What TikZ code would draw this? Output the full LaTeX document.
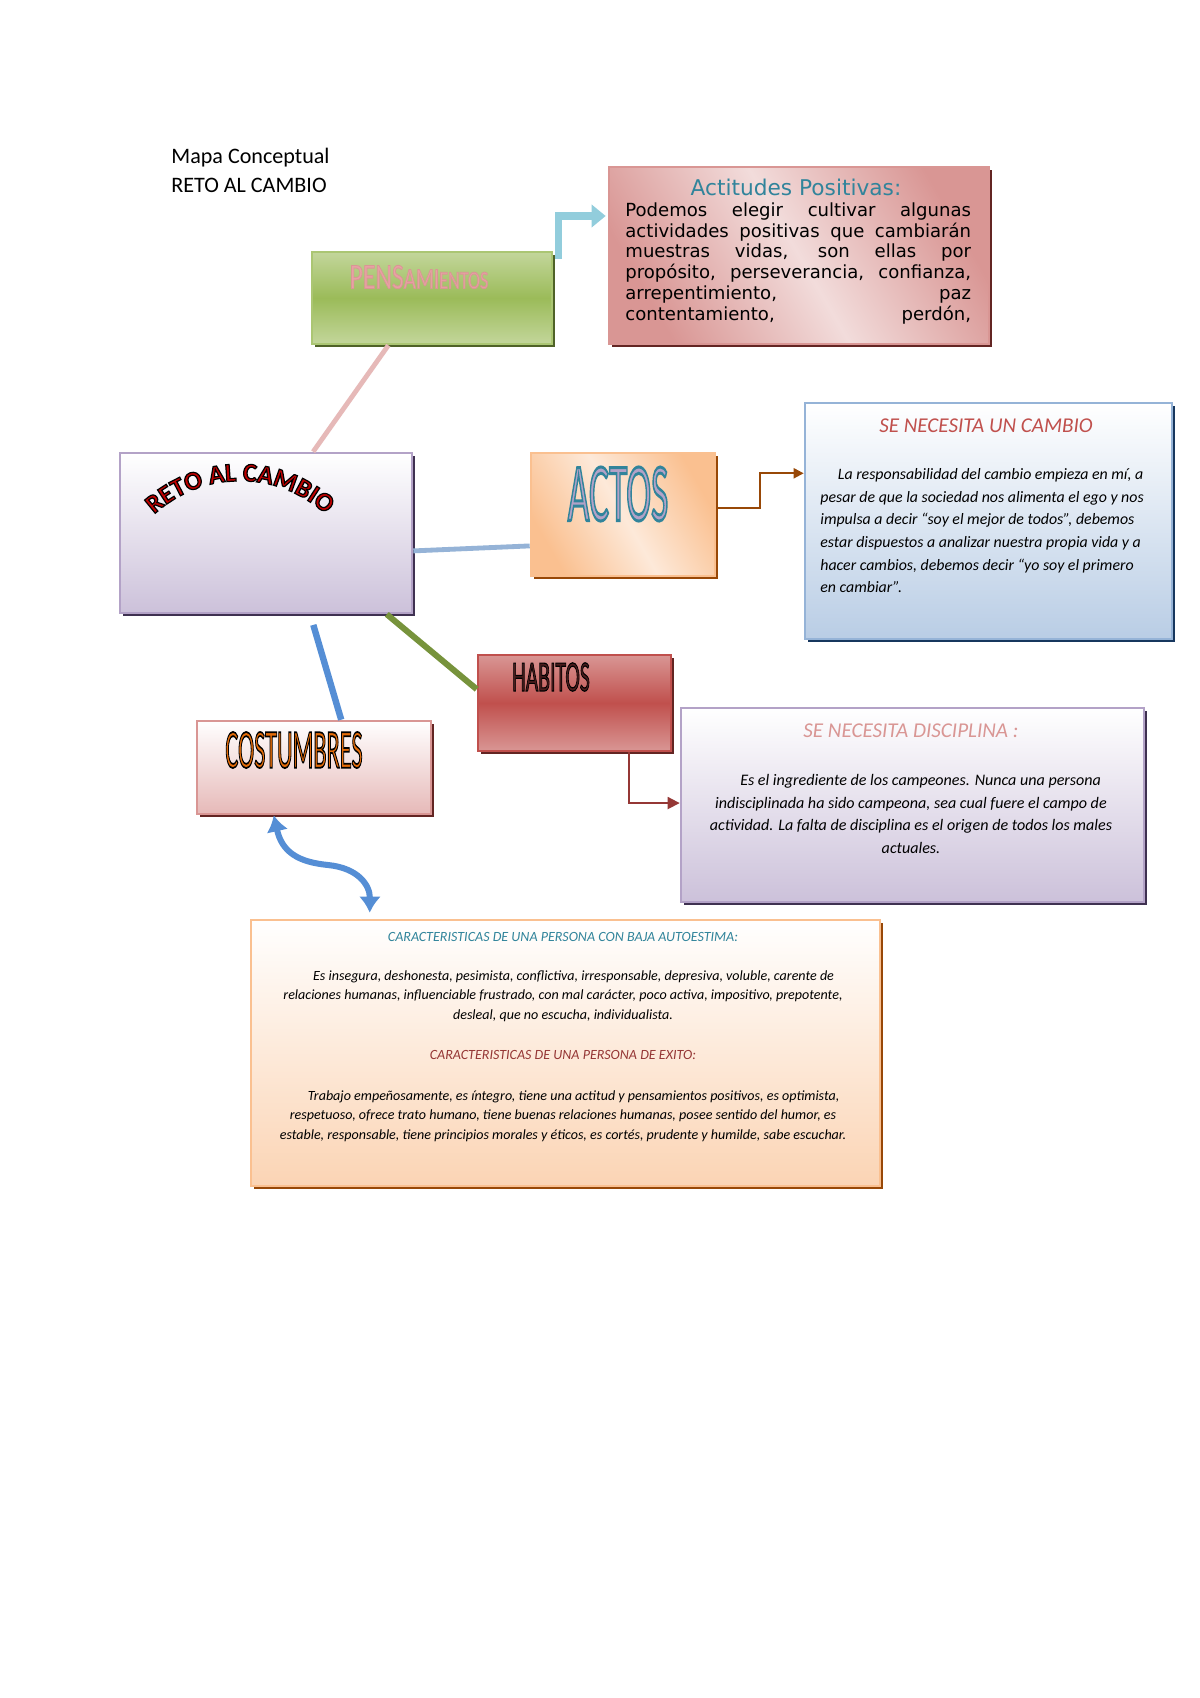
\documentclass[tikz,border=0pt]{standalone}
\usepackage{fontspec}
\setmainfont{Carlito}
\newfontfamily\verdana{DejaVu Sans}
\usetikzlibrary{calc, fit, shadows, arrows.meta, decorations.text}

\definecolor{greenlight}{HTML}{C3D69B}
\definecolor{greenmid}{HTML}{9BBB59}
\definecolor{greendark}{HTML}{4F6228}
\definecolor{rosered}{HTML}{D99694}
\definecolor{roselight}{HTML}{F2DCDB}
\definecolor{rosemid}{HTML}{E6B9B8}
\definecolor{reddark}{HTML}{632523}
\definecolor{redmid}{HTML}{C0504D}
\definecolor{redtext}{HTML}{953735}
\definecolor{redword}{HTML}{C00000}
\definecolor{lilac}{HTML}{CCC1DA}
\definecolor{lilacline}{HTML}{B3A2C7}
\definecolor{lilacdark}{HTML}{3F3151}
\definecolor{peach}{HTML}{FAC090}
\definecolor{peachlight}{HTML}{FDE9D9}
\definecolor{peachsoft}{HTML}{FBD4B4}
\definecolor{browndark}{HTML}{984807}
\definecolor{skyline}{HTML}{95B3D7}
\definecolor{skylight}{HTML}{B9CDE5}
\definecolor{navydark}{HTML}{17375E}
\definecolor{aqua}{HTML}{92CDDC}
\definecolor{tealtext}{HTML}{31849B}
\definecolor{bluemid}{HTML}{558ED5}
\definecolor{olivegreen}{HTML}{77933C}
\definecolor{orangetext}{HTML}{E46C0A}
\definecolor{pinkword}{HTML}{E8A1A4}
\definecolor{habword}{HTML}{4A1C1C}

% outlined letters: stroke colour (r g b) and width
\newcommand{\strokeon}[2]{\special{pdf:literal direct #1 RG #2 w 2 Tr}}
\newcommand{\strokeoff}{\special{pdf:literal direct 0 Tr}}

\tikzset{
    mapbox/.style 2 args={draw=#1, line width=1.3pt, inner sep=0pt,
        general shadow={fill=#2, shadow xshift=1.6pt, shadow yshift=-1.6pt}},
    bodytext/.style={inner sep=0pt, font=\itshape\fontsize{7.9}{11.3}\selectfont},
    smalltext/.style={inner sep=0pt, align=center, font=\itshape\fontsize{7}{9.7}\selectfont},
}

\begin{document}
\begin{tikzpicture}[x=0.0175cm, y=-0.0175cm]
        \useasboundingbox[fill=white] (0,0) rectangle (1200,1698);

        \node[anchor=west, inner sep=0pt, font=\fontsize{11}{13}\selectfont] (maptitle) at (171,158) {Mapa Conceptual};
        \node[anchor=west, inner sep=0pt, font=\fontsize{11}{13}\selectfont] (mapsub) at (171,185) {RETO AL CAMBIO};

        % boxes
        \node[mapbox={greenmid!60!greenlight}{greendark}, top color=greenlight, bottom color=greenlight, middle color=greenmid, fit={(312,252) (552,344)}] (pens) {};
        \node[mapbox={rosered}{reddark}, left color=rosered, right color=rosered, middle color=roselight, shading angle=120, fit={(609,167) (989,344)}] (acti) {};
        \node[mapbox={lilacline}{lilacdark}, top color=white, bottom color=lilac, fit={(120,453) (412,613)}] (reto) {};
        \node[mapbox={peach}{browndark}, left color=peach, right color=peach, middle color=peachlight, shading angle=120, fit={(531,453) (715,576)}] (actos) {};
        \node[mapbox={skyline}{navydark}, top color=white, bottom color=skylight, fit={(805,403) (1172,639)}] (cambio) {};
        \node[mapbox={redmid}{reddark}, top color=rosered, bottom color=rosered, middle color=redmid, fit={(478,655) (671,751)}] (habitos) {};
        \node[mapbox={rosered}{reddark}, top color=white, bottom color=rosemid, fit={(197,721) (431,814)}] (costumbres) {};
        \node[mapbox={lilacline}{lilacdark}, top color=white, bottom color=lilac, fit={(681,708) (1144,902)}] (disc) {};
        \node[mapbox={peach}{browndark}, top color=white, bottom color=peachsoft, fit={(251,920) (880,1186)}] (carac) {};

        % connectors
        \draw[line width=2.4pt, rosemid] ($(reto.north west)!0.66!(reto.north east)$) -- ($(pens.south west)!0.32!(pens.south east)$);
        \draw[line width=2.4pt, skyline] ($(reto.north east)!0.61!(reto.south east)$) -- ($(actos.north west)!0.75!(actos.south west)$);
        \draw[line width=3pt, olivegreen] ($(reto.south west)!0.91!(reto.south east)$) -- ($(habitos.north west)!0.36!(habitos.south west)$);
        \draw[line width=3.2pt, bluemid, shorten <=5.5pt] ($(reto.south west)!0.65!(reto.south east)$) -- ($(costumbres.north west)!0.615!(costumbres.north east)$);
        \draw[line width=3pt, bluemid, shorten >=3pt, {Latex[length=8pt,width=11pt]}-{Latex[length=8pt,width=11pt]}] ($(costumbres.south west)!0.33!(costumbres.south east)$) .. controls (282,852) and (298,862) .. (328,865) .. controls (358,868) and (370,885) .. ($(carac.north west)!0.19!(carac.north east)$);
        \draw[line width=3.5pt, aqua, shorten >=1pt, -{Triangle[length=7pt,width=11pt]}] ($(pens.north east)!0.09!(pens.south east)+(5,0)$) |- ($(acti.north west)!0.28!(acti.south west)$);
        \draw[line width=1pt, browndark, -{Triangle[length=5pt,width=5pt]}] ($(actos.north east)!0.45!(actos.south east)$) -- ++(44,0) |- ($(cambio.north west)!0.30!(cambio.south west)$);
        \draw[line width=0.9pt, redtext, -{Triangle[length=6pt,width=6pt]}] ($(habitos.south west)!0.78!(habitos.south east)$) |- ($(disc.north west)!0.49!(disc.south west)$);

        % word art titles
        \node[text=lilacline, font=\fontsize{30}{30}\selectfont] (actosword) at (618,494) {\strokeon{0.192 0.518 0.608}{1.1}\scalebox{0.62}[1.37]{ACTOS}\strokeoff};
        \node[text=orangetext, font=\fontsize{22}{22}\selectfont] (costword) at (294,750) {\strokeon{0 0 0}{0.7}\scalebox{0.55}[1.25]{COSTUMBRES}\strokeoff};
        \node[text=habword, font=\fontsize{18}{18}\selectfont] (habword) at (551,677) {\strokeon{0 0 0}{0.5}\scalebox{0.6}[1.2]{HABITOS}\strokeoff};
        \node[text=pinkword] (pensword) at (419,277) {\strokeon{0.851 0.588 0.580}{0.4}\scalebox{0.75}[1.05]{{\fontsize{17}{17}\selectfont PENS}{\fontsize{14}{14}\selectfont AMI}{\fontsize{12}{12}\selectfont ENTOS}}\strokeoff};

        \path[decorate, decoration={text along path, text align=center,
            text={|\color{redword}\strokeon{0 0 0}{0.6}\fontsize{13}{13}\selectfont\bfseries|RETO AL CAMBIO}}]
            ($(240,608)+(-132:127)$) arc[start angle=-132, end angle=-48, radius=127];

        % texts
        \node[text=tealtext, inner sep=0pt, font=\verdana\fontsize{10.8}{12}\selectfont] (actititle) at (796,187) {Actitudes Positivas:};
        \node[anchor=north west, inner sep=0pt, align=left, font=\verdana\fontsize{9}{10.4}\selectfont] (actitext) at (625,202) {%
            \makebox[6.05cm][s]{Podemos elegir cultivar algunas}\\
            \makebox[6.05cm][s]{actividades positivas que cambiarán}\\
            \makebox[6.05cm][s]{muestras vidas, son ellas por}\\
            \makebox[6.05cm][s]{propósito, perseverancia, confianza,}\\
            \makebox[6.05cm][s]{arrepentimiento, paz}\\
            \makebox[6.05cm][s]{contentamiento, perdón,}};

        \node[text=redmid, inner sep=0pt, font=\itshape\fontsize{10.5}{12}\selectfont] (cambiotitle) at (986,426) {SE NECESITA UN CAMBIO};
        \node[bodytext, anchor=north west, align=left] (cambiotext) at (820,468) {%
            \hspace*{1.1em}La responsabilidad del cambio empieza en mí, a\\
            pesar de que la sociedad nos alimenta el ego y nos\\
            impulsa a decir “soy el mejor de todos”, debemos\\
            estar dispuestos a analizar nuestra propia vida y a\\
            hacer cambios, debemos decir “yo soy el primero\\
            en cambiar”.};

        \node[text=rosered, inner sep=0pt, font=\itshape\fontsize{10.5}{12}\selectfont] (disctitle) at (911,731) {SE NECESITA DISCIPLINA :};
        \node[bodytext, anchor=north, align=center, font=\itshape\fontsize{8}{11.3}\selectfont] (disctext) at (911,774) {%
            \hspace*{1.2em}Es el ingrediente de los campeones. Nunca una persona\\
            indisciplinada ha sido campeona, sea cual fuere el campo de\\
            actividad. La falta de disciplina es el origen de todos los males\\
            actuales.};

        \node[smalltext, text=tealtext] (baja) at (563,937) {CARACTERISTICAS DE UNA PERSONA CON BAJA AUTOESTIMA:};
        \node[smalltext, anchor=north] (bajatext) at (563,970) {%
            \hspace*{1.5em}Es insegura, deshonesta, pesimista, conflictiva, irresponsable, depresiva, voluble, carente de\\
            relaciones humanas, influenciable frustrado, con mal carácter, poco activa, impositivo, prepotente,\\
            desleal, que no escucha, individualista.};
        \node[smalltext, text=redtext] (exito) at (563,1055) {CARACTERISTICAS DE UNA PERSONA DE EXITO:};
        \node[smalltext, anchor=north] (exitotext) at (563,1090) {%
            \hspace*{1.5em}Trabajo empeñosamente, es íntegro, tiene una actitud y pensamientos positivos, es optimista,\\
            respetuoso, ofrece trato humano, tiene buenas relaciones humanas, posee sentido del humor, es\\
            estable, responsable, tiene principios morales y éticos, es cortés, prudente y humilde, sabe escuchar.};
    \end{tikzpicture}
\end{document}
